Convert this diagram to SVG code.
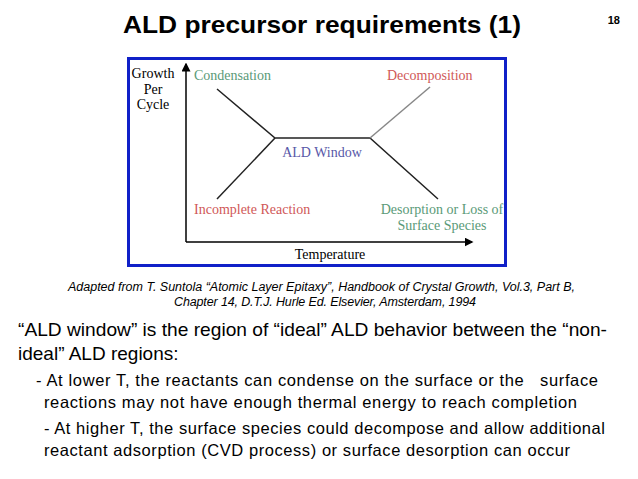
<svg xmlns="http://www.w3.org/2000/svg" width="638" height="479" viewBox="0 0 638 479">
<style>
.s{font-family:"Liberation Serif",serif;font-size:14px}
.b{font-family:"Liberation Sans",Arial,sans-serif}
</style>
<defs><marker id="a" markerWidth="6" markerHeight="6" refX="5" refY="3" orient="auto"><path d="M0,0 L6,3 L0,6 z" fill="#000"/></marker></defs>
<rect width="638" height="479" fill="#fff"/>
<text class="b" x="322" y="33" text-anchor="middle" font-size="24" font-weight="bold" textLength="398" lengthAdjust="spacingAndGlyphs">ALD precursor requirements (1)</text>
<text class="b" x="620" y="24" text-anchor="end" font-size="11" font-weight="bold">18</text>
<g id="chart">
<rect x="128.5" y="58.5" width="377" height="207" fill="#fff" stroke="#1020c8" stroke-width="3"/>
<g id="connectors" stroke="#000" fill="none" stroke-width="1.5">
<line x1="186" y1="242" x2="186" y2="64" marker-end="url(#a)"/>
<line x1="186" y1="242" x2="472" y2="242" marker-end="url(#a)"/>
<polyline points="217,89 275,138 370,138 438,199" stroke="#222"/>
<line x1="275" y1="138" x2="217" y2="199" stroke="#222"/>
<line x1="370" y1="138" x2="430" y2="87" stroke="#888"/>
</g>
<text class="s" x="153" y="78" text-anchor="middle">Growth</text>
<text class="s" x="153" y="94" text-anchor="middle">Per</text>
<text class="s" x="153" y="109" text-anchor="middle">Cycle</text>
<text class="s" x="194" y="80" fill="#5a9a78">Condensation</text>
<text class="s" x="387" y="80" fill="#d05858">Decomposition</text>
<text class="s" x="322" y="157" text-anchor="middle" fill="#5858a8">ALD Window</text>
<text class="s" x="194" y="214" fill="#d05858">Incomplete Reaction</text>
<text class="s" x="442" y="214" text-anchor="middle" fill="#5a9a78">Desorption or Loss of</text>
<text class="s" x="442" y="230" text-anchor="middle" fill="#5a9a78">Surface Species</text>
<text class="s" x="330" y="259" text-anchor="middle">Temperature</text>
</g>
<g class="b" font-style="italic" font-size="12.5" lengthAdjust="spacingAndGlyphs">
<text x="68" y="291" textLength="507">Adapted from T. Suntola “Atomic Layer Epitaxy”, Handbook of Crystal Growth, Vol.3, Part B,</text>
<text x="174" y="306" textLength="302">Chapter 14, D.T.J. Hurle Ed. Elsevier, Amsterdam, 1994</text>
</g>
<g class="b" font-size="19">
<text x="18" y="336" textLength="589" lengthAdjust="spacingAndGlyphs">“ALD window” is the region of “ideal” ALD behavior between  the “non-</text>
<text x="18" y="360">ideal” ALD regions:</text>
</g>
<g class="b" font-size="16.5" lengthAdjust="spacingAndGlyphs">
<text x="36" y="386" textLength="562" xml:space="preserve">- At lower T, the reactants can condense on the surface or the   surface</text>
<text x="44" y="408" textLength="533">reactions may not have enough thermal energy to reach completion</text>
<text x="44" y="434" textLength="561">- At higher T, the surface species could decompose and allow additional</text>
<text x="44" y="456" textLength="526">reactant adsorption (CVD process) or surface desorption can occur</text>
</g>
</svg>
